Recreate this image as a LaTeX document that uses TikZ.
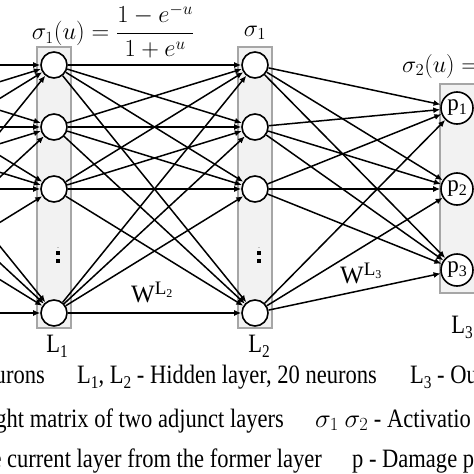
\documentclass[tikz,border=0pt]{standalone}
\usepackage{fix-cm}
\usepackage[no-math]{fontspec}
\setmainfont{Liberation Serif}
\newfontfamily\legendfont[FakeStretch=0.85]{Liberation Serif}
\usetikzlibrary{arrows.meta}
\newcommand\mysub[1]{\raisebox{-4pt}{\fontsize{16}{16}\selectfont #1}}
\newcommand\lsub[1]{\raisebox{-5pt}{\fontsize{18}{18}\selectfont #1}}
\newcommand\wsup[1]{\raisebox{8pt}{\fontsize{19}{19}\selectfont L\raisebox{-3pt}{\fontsize{12}{12}\selectfont #1}}}
\begin{document}
\begin{tikzpicture}[x=1pt,y=-1pt,
  neuron/.style={circle,draw=black,line width=1.6pt,fill=white,minimum size=26pt,inner sep=0pt},
  outneuron/.style={neuron,minimum size=32pt,font=\fontsize{23}{25}\selectfont},
  ghost/.style={circle,minimum size=26pt,inner sep=0pt},
  layerbox/.style={draw=gray!70,fill=gray!10,line width=1.6pt},
  conn/.style={line width=1.5pt,-{Latex[length=7pt,width=6pt]}},
  txt/.style={font=\fontsize{24}{28}\selectfont,inner sep=0pt},
  legend/.style={font=\legendfont\fontsize{26.5}{30}\selectfont,inner sep=0pt},
]
\useasboundingbox (0,0) rectangle (474,474);
\clip (0,0) rectangle (474,474);
\fill[white] (0,0) rectangle (474,474);

% layer boxes
\draw[layerbox] (37,47) rectangle (71,328);
\draw[layerbox] (238,47) rectangle (272,328);
\draw[layerbox] (440,84) rectangle (500,293);

% neurons
\foreach \i/\y in {1/65,2/127,3/189,4/313}{
  \node[ghost] (in\i) at (-147,\y) {};
  \node[neuron] (h\i) at (54,\y) {};
  \node[neuron] (g\i) at (255,\y) {};
}
\node[outneuron] (o1) at (457,108) {p\mysub{1}};
\node[outneuron] (o2) at (457,189) {p\mysub{2}};
\node[outneuron] (o3) at (457,270) {p\mysub{3}};

% vertical dots
\foreach \x in {58,259}{
  \fill[black] (\x-1.7,251) rectangle (\x+1.7,254.7);
  \fill[black] (\x-1.7,259) rectangle (\x+1.7,262.7);
  \fill[gray!50] (\x-0.8,246.5) rectangle (\x+0.8,247.5);
}

% connections
\foreach \i in {1,...,4}{
  \foreach \j in {1,...,4}{
    \draw[conn] (in\i) -- (h\j);
    \draw[conn] (h\i) -- (g\j);
  }
  \foreach \j in {1,2,3}{
    \draw[conn] (g\i) -- (o\j);
  }
}

% formulas and labels
\node[txt,font=\fontsize{24.5}{28}\selectfont] (f1) at (113,31) {$\displaystyle\sigma_1(u)=\frac{1-e^{-u}}{1+e^{u}}$};
\node[txt] (s1) at (255,33) {$\sigma_1$};
\node[txt,anchor=west] (s2) at (402,66) {$\sigma_2(u)=$};

\node[txt,anchor=base west,font=\fontsize{25}{28}\selectfont] (w2) at (131,302) {W\wsup{2}};
\node[txt,anchor=base west,font=\fontsize{25}{28}\selectfont] (w3) at (340,283) {W\wsup{3}};

\node[legend,anchor=base] (l1) at (57,352) {L\lsub{1}};
\node[legend,anchor=base] (l2) at (259,352) {L\lsub{2}};
\node[legend,anchor=base] (l3) at (462,333) {L\lsub{3}};

% legend
\node[legend,anchor=base east] (t1) at (45,383) {urons};
\node[legend,anchor=base west] (t2) at (77,383) {L\lsub{1}, L\lsub{2} - Hidden layer, 20 neurons};
\node[legend,anchor=base west] (t3) at (410,383) {L\lsub{3} - Ou};
\node[legend,anchor=base east] (t4) at (284,427) {ght matrix of two adjunct layers};
\node[legend,anchor=base west] (t5) at (315,427) {$\sigma_1$ $\sigma_2$ - Activatio};
\node[legend,anchor=base east] (t6) at (322,467) {e current layer from the former layer};
\node[legend,anchor=base west] (t7) at (352,467) {p - Damage p};
\end{tikzpicture}
\end{document}
